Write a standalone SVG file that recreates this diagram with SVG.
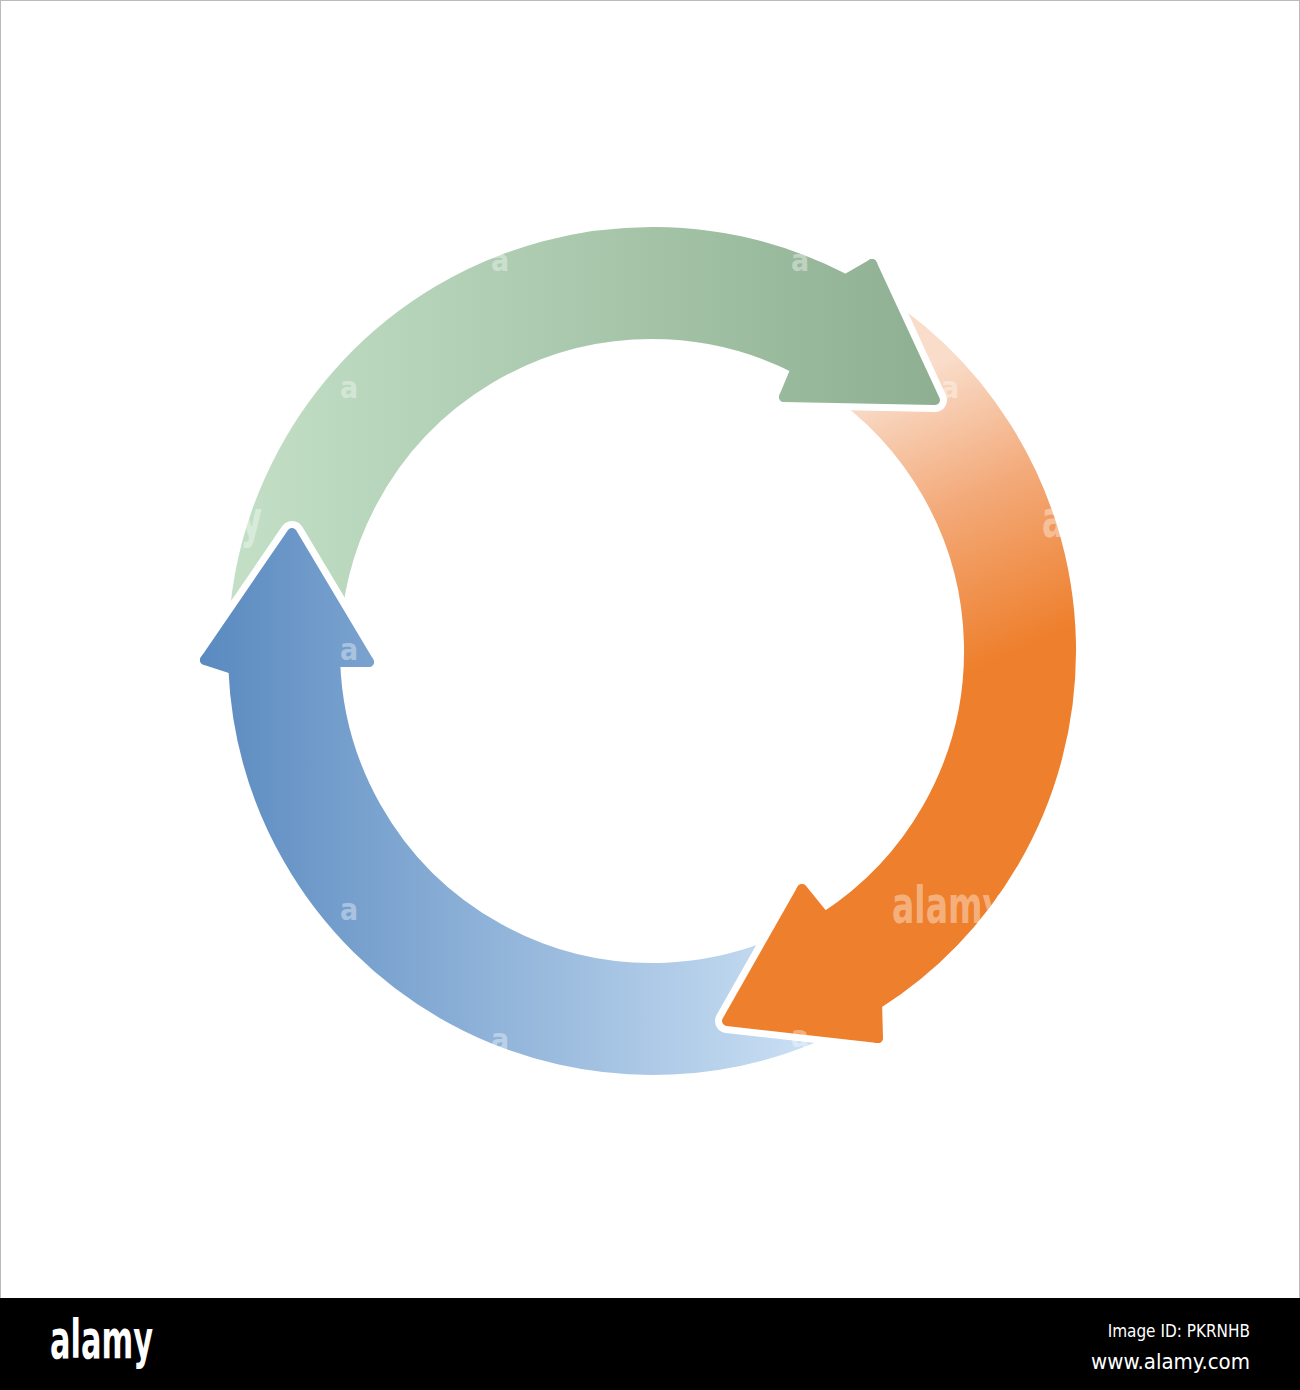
<svg xmlns="http://www.w3.org/2000/svg" width="1300" height="1390" viewBox="0 0 1300 1390">
<defs>
<linearGradient id="gGreen" gradientUnits="userSpaceOnUse" x1="230" y1="0" x2="940" y2="0">
<stop offset="0" stop-color="#c3e0c6"/><stop offset="1" stop-color="#8eaf92"/>
</linearGradient>
<linearGradient id="gBlue" gradientUnits="userSpaceOnUse" x1="200" y1="0" x2="800" y2="0">
<stop offset="0" stop-color="#5a8ac0"/><stop offset="1" stop-color="#c8def3"/>
</linearGradient>
<linearGradient id="gOrange" gradientUnits="userSpaceOnUse" x1="880" y1="390" x2="1000" y2="660">
<stop offset="0" stop-color="#f9dcc9"/><stop offset="0.45" stop-color="#f3aa7a"/><stop offset="1" stop-color="#ee7f2c"/>
</linearGradient>
</defs>
<style>
.gap{fill:none;stroke:#fff;stroke-width:24;stroke-linejoin:round;stroke-linecap:round}
.body{stroke-width:10;stroke-linejoin:round}
.wm{fill:#fff;fill-opacity:0.4;font-family:"DejaVu Sans Condensed","Liberation Sans",sans-serif;font-weight:bold}
</style>
<rect x="0" y="0" width="1300" height="1390" fill="#fff"/>
<rect x="0.5" y="0.5" width="1299" height="1298" fill="none" stroke="#bbb" stroke-width="1"/>
<g id="arrow-blue">
<path class="body" fill="url(#gBlue)" stroke="url(#gBlue)" d="M861.5,1013.9 A419,419 0 0 1 233.4,669.3 L205,660 L292,533 L369,662 L335.2,662.1 A317,317 0 0 0 810.5,925.5 Z"/>
</g>
<g id="arrow-orange">
<path class="body" fill="url(#gOrange)" stroke="url(#gOrange)" d="M861.5,288.1 A419,419 0 0 1 877.1,1004.4 L878,1038 L727,1021 L802,889 L824.7,916.9 A317,317 0 0 0 810.5,376.5 Z"/>
</g>
<g id="arrow-green">
<path class="body" fill="url(#gGreen)" stroke="url(#gGreen)" d="M233.1,643.7 A419,419 0 0 1 845.5,279.3 L872,264 L935,400 L784,397 L795.9,368.5 A317,317 0 0 0 335.05,645.5 Z"/>
</g>
<g id="heads">
<path class="gap" d="M878,276 L935,400 L798,397.3"/>
<path class="body" fill="url(#gGreen)" stroke="url(#gGreen)" d="M872,264 L935,400 L784,397 Z"/>
<path class="gap" d="M864,1036.4 L727,1021 L795,901"/>
<path class="body" fill="url(#gOrange)" stroke="url(#gOrange)" d="M878,1038 L727,1021 L802,889 Z"/>
<path class="gap" d="M213,648.5 L292,533 L362,650"/>
<path class="body" fill="url(#gBlue)" stroke="url(#gBlue)" d="M205,660 L292,533 L369,662 Z"/>
</g>
<g id="watermark">
<text class="wm" x="500" y="271" font-size="30" text-anchor="middle">a</text>
<text class="wm" x="800" y="271" font-size="30" text-anchor="middle">a</text>
<text class="wm" x="349" y="398" font-size="30" text-anchor="middle">a</text>
<text class="wm" x="950" y="398" font-size="30" text-anchor="middle">a</text>
<text class="wm" x="349" y="660" font-size="30" text-anchor="middle">a</text>
<text class="wm" x="349" y="920" font-size="30" text-anchor="middle">a</text>
<text class="wm" x="500" y="1050" font-size="30" text-anchor="middle">a</text>
<text class="wm" x="800" y="1047" font-size="30" text-anchor="middle">a</text>
<text class="wm" x="150" y="537" font-size="52" textLength="112" lengthAdjust="spacingAndGlyphs">alamy</text>
<text class="wm" x="1042" y="537" font-size="52" textLength="112" lengthAdjust="spacingAndGlyphs">alamy</text>
<text class="wm" x="892" y="923" font-size="52" textLength="112" lengthAdjust="spacingAndGlyphs">alamy</text>
</g>
<g id="footer">
<rect x="0" y="1298" width="1300" height="92" fill="#000"/>
<text x="50" y="1358" font-family="DejaVu Sans Condensed, Liberation Sans, sans-serif" font-weight="bold" font-size="54" fill="#fff" textLength="103" lengthAdjust="spacingAndGlyphs">alamy</text>
<text x="1250" y="1337" font-family="DejaVu Sans Condensed, Liberation Sans, sans-serif" font-size="17" fill="#fff" text-anchor="end">Image ID: PKRNHB</text>
<text x="1250" y="1369" font-family="DejaVu Sans Condensed, Liberation Sans, sans-serif" font-size="22" fill="#fff" text-anchor="end">www.alamy.com</text>
</g>
</svg>
